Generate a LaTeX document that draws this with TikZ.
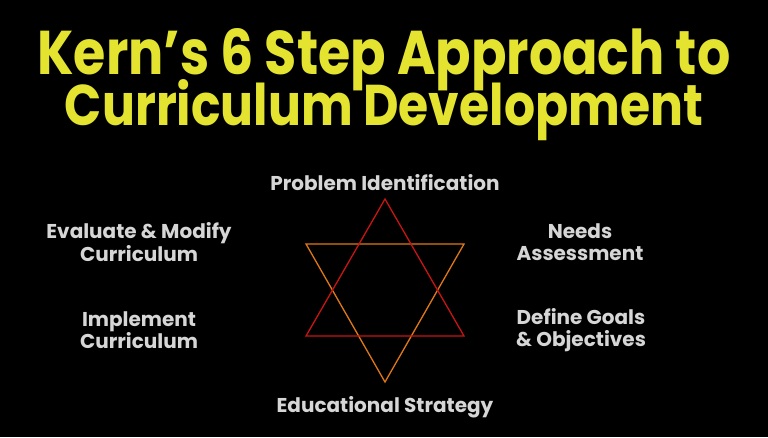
\documentclass[tikz,border=0pt]{standalone}
\usepackage{fontspec}
\setmainfont{Poppins}
\definecolor{bg}{HTML}{000000}
\definecolor{chalkyellow}{HTML}{E3E330}
\definecolor{chalkgray}{HTML}{D6D6D6}
\definecolor{starred}{HTML}{C81414}
\definecolor{starorange}{HTML}{E07818}
\newcommand{\titleline}[2]{\raisebox{0pt}[\height][0pt]{\resizebox{#1}{46pt}{#2}}}
\begin{document}
\begin{tikzpicture}[x=1pt,y=-1pt,
  title/.style={text=chalkyellow,font=\bfseries\fontsize{50}{50}\selectfont,inner sep=0pt,anchor=base},
  lbl/.style={text=chalkgray,font=\bfseries\fontsize{20}{22.5}\selectfont,align=center,inner sep=0pt,anchor=center},
  edge/.style={line width=1.3pt,line join=miter}]
\fill[bg] (0,0) rectangle (768,437);
\useasboundingbox (0,0) rectangle (768,437);
\node[title] (t1) at (384,74) {\titleline{693pt}{Kern’s 6 Step Approach to}};
\node[title] (t2) at (384,125) {\titleline{638pt}{Curriculum Development}};
\coordinate (ra) at (385,199);
\coordinate (rl) at (306,336);
\coordinate (rr) at (464,336);
\coordinate (ol) at (306,244);
\coordinate (or) at (464,244);
\coordinate (ob) at (385,382);
\draw[edge,starorange] (ol) -- (or) -- (ob) -- cycle;
\draw[edge,starred] (ra) -- (rl) -- (rr) -- cycle;
\node[lbl] (p1) at (385,183) {Problem Identification};
\node[lbl] (p2) at (580,242) {Needs\\Assessment};
\node[lbl] (p3) at (581,330) {Define Goals\\\& Objectives};
\node[lbl] (p4) at (385,407) {Educational Strategy};
\node[lbl] (p5) at (139,330) {Implement\\Curriculum};
\node[lbl] (p6) at (139,242) {Evaluate \& Modify\\Curriculum};
\end{tikzpicture}
\end{document}
